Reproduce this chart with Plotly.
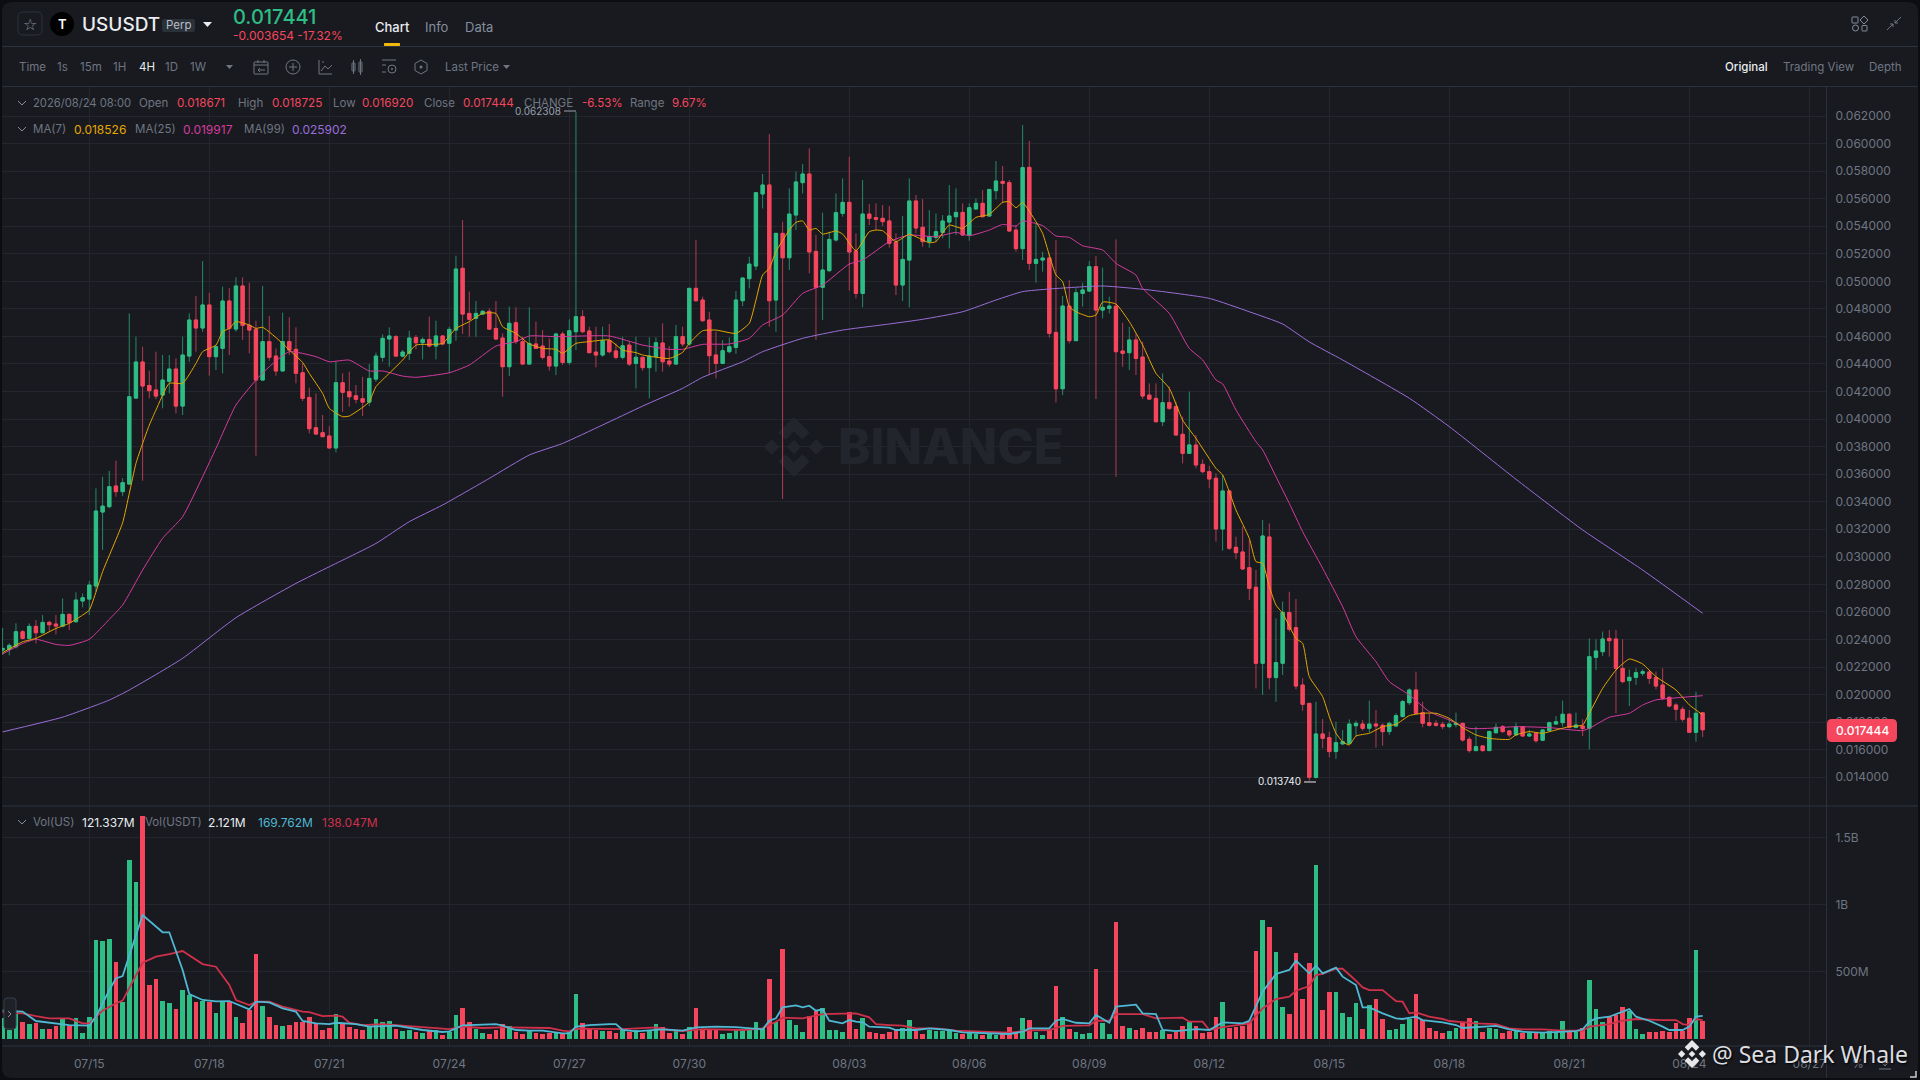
import pandas as pd
import plotly.graph_objects as go

BG_OUT = "#0c0d10"; BG = "#181a20"; GRID = "#23272d"; SEP = "#2d333c"
GREEN = "#2ebd85"; RED = "#f6465d"; GREEN_WICK = "#278a66"; RED_WICK = "#b33c50"
TXT = "#6f7681"; TXT2 = "#848e9c"; WHITE = "#eaecef"
ORANGE = "#e6a700"; MAGENTA = "#d63a9e"; PURPLE = "#9a6ed8"; CYAN = "#4fb8d2"; CRIMSON = "#cf304a"
FONT = "Inter"

first_bar = -13
opens = [
 .02323,.02328,.02347,.02456,.02408,.02495,.02449,.02524,.02512,.02497,.02582,.02529,.02679,
 .02693,.02788,.03325,.03364,.03514,.03473,.03528,.04152,.04414,.04244,
 .04211,.04174,.04274,.04363,.04094,.04457,.04719,.04661,.04828,.04453,
 .04513,.04857,.04653,.04966,.04680,.04651,.04283,.04562,.04457,.04349,
 .04562,.04506,.04336,.04157,.03937,.03901,.03877,.03790,.04264,.04199,
 .04169,.04148,.04123,.04290,.04448,.04581,.04598,.04457,.04477,.04591,
 .04554,.04578,.04530,.04603,.04550,.04646,.05094,.04767,.04731,.04762,
 .04782,.04658,.04588,.04380,.04699,.04562,.04399,.04545,.04530,.04453,
 .04385,.04617,.04411,.04634,.04743,.04639,.04486,.04465,.04569,.04494,
 .04448,.04537,.04404,.04448,.04373,.04453,.04552,.04421,.04399,.04598,
 .04545,.04949,.04864,.04719,.04465,.04404,.04489,.04520,.04859,.05019,
 .05111,.05634,.05699,.04864,.05348,.05171,.05481,.05716,.05779,.05217,
 .04956,.05077,.05300,.05493,.05573,.05220,.04912,.05488,.05462,.05457,
 .05438,.05283,.04973,.05154,.05583,.05392,.05288,.05319,.05355,.05430,
 .05469,.05500,.05336,.05525,.05566,.05474,.05658,.05725,.05716,.05372,
 .05237,.05827,.05130,.05154,.05169,.04629,.04220,.04820,.04569,.04912,
 .04929,.05106,.04791,.04803,.04820,.04494,.04482,.04574,.04450,.04174,
 .04150,.03981,.04119,.04090,.03889,.03751,.03811,.03671,.03618,.03570,
 .03202,.03478,.03069,.03035,.02921,.02779,.02227,.03144,.02123,.02227,
 .02595,.02486,.02069,.01936,.01399,.01714,.01687,.01586,.01642,.01646,
 .01774,.01786,.01755,.01786,.01777,.01731,.01772,.01840,.01941,.02033,
 .01869,.01796,.01791,.01784,.01767,.01782,.01791,.01675,.01593,.01627,
 .01593,.01723,.01767,.01736,.01707,.01767,.01699,.01719,.01668,.01738,
 .01786,.01796,.01857,.01762,.01772,.01755,.02270,.02311,.02408,.02403,
 .02190,.02101,.02125,.02154,.02164,.02123,.02069,.01980,.01924,.01893,
 .01828,.01726,.018671]
closes = [
 .02335,.02357,.02456,.02408,.02495,.02449,.02524,.02507,.02497,.02582,.02522,.02686,.02703,
 .02795,.03332,.03368,.03509,.03473,.03538,.04162,.04414,.04240,.04206,
 .04167,.04283,.04363,.04094,.04465,.04719,.04661,.04828,.04453,.04525,
 .04857,.04658,.04966,.04680,.04646,.04283,.04562,.04448,.04349,.04562,
 .04501,.04332,.04150,.03930,.03891,.03872,.03790,.04264,.04194,.04162,
 .04143,.04123,.04295,.04457,.04586,.04603,.04457,.04486,.04588,.04554,
 .04578,.04530,.04603,.04545,.04651,.05089,.04762,.04724,.04767,.04782,
 .04653,.04581,.04380,.04695,.04562,.04399,.04549,.04513,.04448,.04385,
 .04617,.04411,.04641,.04743,.04634,.04482,.04465,.04569,.04489,.04448,
 .04532,.04399,.04448,.04373,.04457,.04554,.04416,.04399,.04598,.04545,
 .04949,.04859,.04714,.04460,.04404,.04496,.04525,.04864,.05024,.05125,
 .05643,.05699,.04859,.05348,.05171,.05488,.05721,.05779,.05213,.04956,
 .05082,.05304,.05498,.05573,.05213,.04912,.05488,.05457,.05450,.05433,
 .05275,.04973,.05159,.05583,.05387,.05288,.05324,.05360,.05438,.05474,
 .05500,.05336,.05534,.05566,.05469,.05667,.05728,.05711,.05365,.05237,
 .05825,.05130,.05159,.05169,.04622,.04220,.04820,.04569,.04917,.04937,
 .05106,.04791,.04811,.04820,.04489,.04477,.04574,.04440,.04167,.04145,
 .03981,.04119,.04078,.03884,.03751,.03812,.03667,.03618,.03565,.03202,
 .03478,.03062,.03030,.02912,.02771,.02227,.03151,.02123,.02232,.02597,
 .02474,.02062,.01929,.01399,.01714,.01682,.01586,.01651,.01658,.01786,
 .01791,.01755,.01786,.01772,.01731,.01791,.01847,.01949,.02033,.01864,
 .01791,.01777,.01777,.01767,.01786,.01791,.01670,.01593,.01622,.01593,
 .01731,.01762,.01731,.01707,.01767,.01699,.01714,.01665,.01743,.01796,
 .01803,.01857,.01762,.01779,.01753,.02275,.02316,.02403,.02391,.02190,
 .02094,.02125,.02159,.02166,.02118,.02062,.01973,.01917,.01893,.01820,
 .01726,.01864,.017444]
highs = [
 .02485,.02372,.02517,.02468,.02517,.02541,.02577,.02536,.02577,.02698,.02589,.02742,.02734,
 .02824,.03497,.03581,.03623,.03698,.03570,.04767,.04598,.04525,.04351,
 .04489,.04465,.04465,.04441,.04598,.04767,.04893,.05147,.04917,.04537,
 .04961,.04950,.05029,.05029,.04990,.04714,.04966,.04748,.04513,.04772,
 .04738,.04666,.04404,.04227,.04186,.04029,.03949,.04416,.04332,.04344,
 .04247,.04307,.04399,.04482,.04615,.04666,.04610,.04501,.04641,.04610,
 .04593,.04743,.04714,.04610,.04670,.05186,.05445,.04925,.04857,.04791,
 .04803,.04857,.04622,.04816,.04811,.04598,.04811,.04707,.04646,.04586,
 .04627,.04634,.04724,.062308,.04791,.04670,.04670,.04670,.04690,.04549,
 .04598,.04561,.04598,.04448,.04593,.04593,.04695,.04530,.04683,.04670,
 .04950,.05300,.04888,.04779,.04634,.04574,.04593,.04929,.05024,.05179,
 .05643,.05779,.06069,.05348,.05433,.05675,.05796,.05851,.05965,.05336,
 .05498,.05360,.05638,.05747,.05905,.05348,.05735,.05561,.05566,.05554,
 .05546,.05348,.05474,.05747,.05626,.05597,.05517,.05493,.05481,.05699,
 .05675,.05566,.05566,.05602,.05663,.05667,.05873,.05837,.05735,.05408,
 .06134,.06018,.05420,.05215,.05203,.05300,.04893,.05009,.04949,.04990,
 .05147,.05183,.05099,.04888,.05304,.04699,.04670,.04622,.04561,.04259,
 .04259,.04332,.04235,.04126,.04017,.04199,.03884,.03707,.03659,.03606,
 .03594,.03485,.03146,.03219,.03122,.02904,.03267,.03243,.02553,.02675,
 .02747,.02694,.02118,.01936,.01948,.01823,.01731,.01803,.01743,.01820,
 .01811,.01815,.01956,.01888,.01791,.01803,.01864,.01961,.02045,.02166,
 .01948,.01864,.01815,.01803,.01828,.01869,.01796,.01694,.01767,.01634,
 .01738,.01791,.01779,.01743,.01796,.01772,.01743,.01723,.01748,.01803,
 .01844,.01956,.01864,.01869,.01820,.02408,.02401,.02457,.02469,.02469,
 .02401,.02183,.02191,.02183,.02178,.02166,.02191,.01985,.01936,.01912,
 .01888,.02021,.018725]
lows = [
 .02287,.02285,.02335,.02400,.02400,.02371,.02444,.02456,.02437,.02488,.02468,.02522,.02633,
 .02577,.02746,.03049,.03352,.03436,.03441,.03528,.04152,.03552,.04150,
 .04145,.04078,.04186,.04041,.04029,.04416,.04489,.04634,.04315,.04356,
 .04332,.04465,.04634,.04574,.04477,.03734,.04283,.04424,.04315,.04349,
 .04465,.04259,.04131,.03896,.03891,.03872,.03790,.03758,.04053,.04090,
 .04114,.04022,.04094,.04271,.04416,.04380,.04457,.04448,.04428,.04506,
 .04433,.04520,.04433,.04535,.04336,.04569,.04617,.04598,.04598,.04755,
 .04646,.04574,.04162,.04312,.04545,.04399,.04399,.04513,.04433,.04351,
 .04319,.04392,.04392,.04501,.04627,.04477,.04375,.04453,.04477,.04433,
 .04433,.04385,.04223,.04351,.04150,.04344,.04344,.04380,.04399,.04525,
 .04530,.04852,.04707,.04320,.04295,.04399,.04477,.04472,.04820,.04949,
 .05082,.05529,.04670,.04634,.03419,.05082,.05372,.05638,.05058,.04574,
 .04719,.05070,.05288,.05469,.04932,.04876,.04811,.05408,.05372,.05401,
 .05244,.04900,.04857,.04811,.05348,.05251,.05244,.05288,.05312,.05239,
 .05336,.05329,.05295,.05517,.05464,.05469,.05595,.05566,.05360,.05215,
 .05154,.05082,.04990,.05070,.04591,.04121,.04174,.04549,.04569,.04816,
 .04924,.04145,.04731,.04767,.03581,.04380,.04356,.04320,.04145,.04138,
 .03973,.03949,.04066,.03884,.03678,.03751,.03642,.03606,.03497,.03110,
 .03045,.03050,.02982,.02904,.02687,.02045,.01997,.02038,.01948,.02142,
 .02457,.02038,.01883,.013740,.01390,.01610,.01544,.01532,.01634,.01641,
 .01694,.01738,.01723,.01615,.01629,.01707,.01767,.01835,.01924,.01859,
 .01762,.01767,.01767,.01748,.01755,.01762,.01658,.01578,.01593,.01586,
 .01590,.01718,.01723,.01690,.01699,.01694,.01694,.01651,.01665,.01731,
 .01779,.01767,.01755,.01755,.01699,.01602,.02178,.02280,.02275,.01864,
 .02082,.01917,.02070,.02135,.02077,.02038,.01961,.01907,.01811,.01803,
 .01723,.01658,.016920]
volumes_m = [
 152,65,209,122,107,119,70,72,97,144,95,154,45,
 159,734,731,744,572,271,1334,1169,1665,401,
 445,279,266,219,361,326,274,279,276,194,
 276,276,159,119,214,634,244,162,100,95,
 102,124,127,162,114,65,80,182,109,90,
 75,65,90,147,124,132,75,60,65,50,
 45,65,65,27,52,177,226,122,75,40,
 35,65,107,95,47,35,55,40,32,40,
 45,32,60,333,117,70,65,60,60,45,
 65,52,65,40,57,109,85,45,57,35,
 87,226,70,70,70,35,40,70,70,82,
 122,82,445,127,669,139,102,50,167,209,
 229,65,65,50,199,72,157,50,45,35,
 50,65,80,139,60,35,65,55,55,65,
 40,35,40,35,30,35,30,35,85,45,
 154,139,52,27,65,393,159,72,52,35,
 45,520,119,35,873,97,77,65,77,52,
 52,65,35,52,97,122,95,40,52,159,
 271,82,90,95,127,657,888,836,647,236,
 187,642,294,565,1296,214,348,348,189,162,
 266,75,251,299,149,65,70,112,144,333,
 139,80,57,45,57,80,114,152,132,52,
 80,70,45,60,65,40,52,40,52,60,
 52,132,57,52,82,438,221,122,164,177,
 234,209,72,32,47,47,60,52,114,60,
 154,659,129]
assert len(opens) == len(closes) == len(highs) == len(lows) == len(volumes_m) == 256

ma7_bars = [-13,-10,-8,-5,-3,-1,0,2,5,6,7,8,9,10,12,14,16,17,19,20,21,22,24,25,26,29,30,32,33,35,36,38,39,41,42,43,45,47,49,51,53,55,57,59,61,62,64,66,68,70,71,73,75,78,80,82,
 83,87,89,90,92,94,97,99,100,101,102,103,105,106,107,108,109,110,112,113,115,117,118,119,121,123,126,127,129,131,133,135,137,138,139,140,142,143,144,145,146,147,148,150,151,152,154,156,158,160,162,164,
 166,169,170,172,174,175,176,177,178,179,181,182,183,185,186,187,188,189,190,192,194,196,198,200,202,204,206,208,210,213,214,216,218,220,222,224,225,227,229,231,233,235,238,240,242]
ma7_vals = [.02304,.02383,.02408,.02480,.02517,.02577,.02613,.02892,.03247,.03460,.03678,.03823,.03956,.04065,.04259,.04259,.04404,.04489,.04537,.04634,.04658,.04707,.04683,.04658,.04666,.04549,.04501,.04411,.04332,.04186,.04078,.04017,.04022,.04085,.04126,.04235,.04332,.04428,.04537,.04542,.04549,.04658,.04707,.04767,.04767,.04670,.04622,.04545,.04513,.04506,.04477,.04549,.04562,.04574,.04501,.04482,
 .04465,.04440,.04484,.04550,.04641,.04646,.04622,.04695,.04864,.05046,.05094,.05215,.05372,.05428,.05438,.05372,.05384,.05343,.05365,.05343,.05222,.05360,.05372,.05367,.05288,.05341,.05280,.05288,.05408,.05384,.05464,.05486,.05573,.05578,.05534,.05571,.05433,.05348,.05191,.05046,.04997,.04816,.04779,.04743,.04755,.04849,.04835,.04707,.04537,.04332,.04223,.03993,
 .03860,.03642,.03594,.03340,.03134,.02965,.02953,.02783,.02650,.02590,.02408,.02372,.02130,.01985,.01840,.01719,.01658,.01634,.01699,.01719,.01767,.01784,.01847,.01864,.01864,.01827,.01760,.01707,.01682,.01675,.01707,.01731,.01719,.01743,.01767,.01779,.01864,.02045,.02178,.02258,.02222,.02130,.02033,.01925,.018526]
ma25_bars = [-13,-10,-8,-5,-3,0,3,5,8,11,14,17,19,22,25,27,30,34,36,39,42,44,47,49,54,57,61,64,66,70,78,
 83,87,89,92,96,99,101,104,107,110,114,116,120,123,127,130,132,135,137,139,140,143,145,147,149,152,154,157,158,
 162,165,167,169,170,172,175,176,178,180,182,185,188,190,193,195,198,201,204,207,210,214,219,224,225,228,231,233,235,239,242]
ma25_vals = [.02294,.02371,.02401,.02364,.02357,.02401,.02546,.02650,.02904,.03134,.03291,.03581,.03787,.04102,.04283,.04380,.04489,.04453,.04416,.04428,.04349,.04349,.04312,.04303,.04336,.04392,.04530,.04562,.04603,.04598,.04603,
 .04537,.04506,.04506,.04542,.04545,.04586,.04683,.04755,.04912,.04973,.05125,.05154,.05288,.05336,.05324,.05355,.05331,.05372,.05413,.05401,.05438,.05404,.05329,.05319,.05258,.05227,.05130,.05045,.04949,
 .04767,.04513,.04429,.04284,.04255,.04066,.03836,.03776,.03582,.03388,.03183,.02917,.02638,.02420,.02239,.02094,.01997,.01876,.01815,.01755,.01755,.01767,.01760,.01738,.01755,.01835,.01864,.01924,.01961,.01980,.019917]
ma99_bars = [-13,-4,3,6,14,22,31,36,43,48,53,60,66,71,77,83,89,92,98,101,107,113,120,125,131,136,140,144,152,159,168,174,179,183,188,198,204,214,224,233,242]
ma99_vals = [.01729,.01836,.01960,.02033,.02263,.02558,.02807,.02928,.03097,.03255,.03376,.03569,.03739,.03823,.03957,.04094,.04223,.04303,.04416,.04489,.04586,.04646,.04690,.04724,.04779,.04864,.04925,.04944,.04966,.04937,.04876,.04779,.04690,.04560,.04429,.04151,.03945,.03563,.03195,.02904,.025902]

volma1_bars = [-13,-10,-8,-6,-3,0,1,3,4,5,8,11,12,14,15,17,19,21,24,25,27,29,31,32,34,36,37,40,42,46,50,53,54,56,61,62,64,66,68,71,72,73,75,78,79,80,82,86,89,91,
 94,97,101,102,103,104,106,107,108,109,110,111,113,114,115,116,117,120,121,124,126,129,131,138,140,141,144,145,146,148,150,151,153,154,157,158,160,161,163,166,168,170,173,174,176,178,180,181,183,184,185,187,188,190,191,192,194,196,
 197,199,200,203,205,206,211,213,215,218,223,224,225,226,228,230,231,232,234,236,237,239,240,241,242]
volma1_vals = [209,202,132,119,102,97,164,363,450,468,923,794,794,513,333,289,279,281,219,276,271,226,202,132,114,109,119,109,90,97,65,50,55,100,109,97,65,60,60,40,40,90,102,109,109,65,55,70,60,85,
 90,87,70,134,152,234,249,234,246,209,219,134,114,139,127,122,90,82,65,65,77,65,47,35,52,77,77,134,147,119,114,177,119,239,254,189,184,65,57,72,65,122,114,134,351,483,513,582,488,545,488,530,463,401,234,234,189,152,
 147,164,139,122,102,80,95,70,52,45,57,70,127,152,164,202,221,164,134,90,65,65,90,164,169.762]
volma2_bars = [-13,-10,-8,-6,-3,-1,0,2,4,5,8,10,12,14,17,19,21,22,24,25,27,29,32,33,35,37,38,39,41,44,47,50,54,56,59,62,64,69,71,72,73,75,80,85,87,89,91,
 92,98,101,103,104,107,110,113,115,117,118,120,122,124,127,130,136,138,141,144,146,150,151,153,154,158,160,164,165,167,168,170,174,176,178,180,181,183,184,185,187,188,190,191,192,194,195,196,
 197,198,199,201,203,204,206,208,211,213,215,218,221,224,225,228,230,232,236,238,239,240,241,242]
volma2_vals = [197,189,169,152,152,114,114,209,264,284,567,612,632,654,557,537,401,289,251,276,276,239,202,199,169,172,164,119,102,109,97,85,72,90,80,85,85,80,60,55,75,75,72,85,65,57,70,
 72,65,77,127,157,152,184,187,189,159,109,102,97,77,77,60,52,45,62,65,95,100,134,134,184,184,152,157,127,127,65,87,114,226,296,313,358,393,475,483,522,522,433,383,363,363,321,281,
 276,189,197,164,147,132,124,114,109,77,70,70,60,60,90,109,134,147,139,139,109,102,147,138.047]

price_ticks = [0.014 + 0.002 * n for n in range(25)]
vol_ticks = [500, 1000, 1500]
vol_tick_text = ["500M", "1B", "1.5B"]
date_ticks = ["2026-07-15","2026-07-18","2026-07-21","2026-07-24","2026-07-27","2026-07-30","2026-08-03",
              "2026-08-06","2026-08-09","2026-08-12","2026-08-15","2026-08-18","2026-08-21","2026-08-24","2026-08-27"]
date_tick_text = [d[5:7] + "/" + d[8:] for d in date_ticks]

t0 = pd.Timestamp("2026-07-15 00:00")
def when(bars):
    return [(t0 + pd.Timedelta(hours=4 * b)).strftime("%Y-%m-%d %H:%M") for b in bars]
bars_all = list(range(first_bar, first_bar + len(opens)))
times = when(bars_all)
vol_colors = [GREEN if c >= o else RED for o, c in zip(opens, closes)]
body_top = [max(o, c) for o, c in zip(opens, closes)]
body_bot = [min(o, c) for o, c in zip(opens, closes)]

px = lambda x: x / 1920
py = lambda y: 1 - y / 1080

fig = go.Figure()
# full range in the dimmer wick colour, then the bodies in the bright colour
fig.add_trace(go.Candlestick(x=times, open=opens, high=highs, low=lows, close=closes,
    increasing=dict(line=dict(color=GREEN_WICK, width=1), fillcolor=GREEN),
    decreasing=dict(line=dict(color=RED_WICK, width=1), fillcolor=RED),
    whiskerwidth=0, xaxis="x", yaxis="y", showlegend=False, hoverinfo="skip"))
fig.add_trace(go.Candlestick(x=times, open=opens, high=body_top, low=body_bot, close=closes,
    increasing=dict(line=dict(color=GREEN, width=1), fillcolor=GREEN),
    decreasing=dict(line=dict(color=RED, width=1), fillcolor=RED),
    whiskerwidth=0, xaxis="x", yaxis="y", showlegend=False, hoverinfo="skip"))
for bars, vals, col in [(ma99_bars, ma99_vals, PURPLE), (ma25_bars, ma25_vals, MAGENTA), (ma7_bars, ma7_vals, ORANGE)]:
    fig.add_trace(go.Scatter(x=when(bars), y=vals, mode="lines", line=dict(color=col, width=1, shape="spline", smoothing=0.5),
                             xaxis="x", yaxis="y", showlegend=False, hoverinfo="skip"))
fig.add_trace(go.Bar(x=times, y=volumes_m, marker=dict(color=vol_colors, line=dict(width=0)),
                     width=9800000, xaxis="x2", yaxis="y2", showlegend=False, hoverinfo="skip"))
for bars, vals, col in [(volma2_bars, volma2_vals, CRIMSON), (volma1_bars, volma1_vals, CYAN)]:
    fig.add_trace(go.Scatter(x=when(bars), y=vals, mode="lines", line=dict(color=col, width=1.8),
                             xaxis="x2", yaxis="y2", showlegend=False, hoverinfo="skip"))

shapes, notes = [], []

def label(x, y, text, color=TXT, size=11.5, anchor="left", weight=400, font=FONT, shadow=None):
    f = dict(family=font, size=size, color=color, weight=weight)
    if shadow:
        f["shadow"] = shadow
    notes.append(dict(x=px(x), y=py(y), xref="paper", yref="paper", text=text, showarrow=False,
                      xanchor=anchor, yanchor="middle", font=f, borderpad=0, borderwidth=0))

def pth(pts, color=None, fill=None, width=1, close=False, layer="above"):
    d = "M " + " L ".join(f"{px(a):.5f} {py(b):.5f}" for a, b in pts) + (" Z" if close else "")
    shapes.append(dict(type="path", xref="paper", yref="paper", path=d, layer=layer,
                       line=dict(color=color or "rgba(0,0,0,0)", width=width if color else 0),
                       fillcolor=fill or "rgba(0,0,0,0)"))

def rrect(x0, y0, x1, y1, r, color=None, fill=None, width=1, layer="above"):
    c = [(x0 + r, y0), (x1 - r, y0), (x1, y0), (x1, y0 + r), (x1, y1 - r), (x1, y1), (x1 - r, y1), (x0 + r, y1), (x0, y1), (x0, y1 - r), (x0, y0 + r), (x0, y0), (x0 + r, y0)]
    P = lambda p: f"{px(p[0]):.5f} {py(p[1]):.5f}"
    d = f"M {P(c[0])} L {P(c[1])} Q {P(c[2])} {P(c[3])} L {P(c[4])} Q {P(c[5])} {P(c[6])} L {P(c[7])} Q {P(c[8])} {P(c[9])} L {P(c[10])} Q {P(c[11])} {P(c[12])} Z"
    shapes.append(dict(type="path", xref="paper", yref="paper", path=d, layer=layer,
                       line=dict(color=color or "rgba(0,0,0,0)", width=width if color else 0),
                       fillcolor=fill or "rgba(0,0,0,0)"))

def circ(cx, cy, r, color=None, fill=None, width=1):
    shapes.append(dict(type="circle", xref="paper", yref="paper", x0=px(cx - r), x1=px(cx + r), y0=py(cy + r), y1=py(cy - r),
                       line=dict(color=color or "rgba(0,0,0,0)", width=width if color else 0),
                       fillcolor=fill or "rgba(0,0,0,0)", layer="above"))

def logo(cx, cy, s, fill, layer="above"):
    parts = [[(0, -.24), (.24, 0), (0, .24), (-.24, 0)],
             [(-1, 0), (-.74, -.26), (-.48, 0), (-.74, .26)],
             [(1, 0), (.74, -.26), (.48, 0), (.74, .26)],
             [(0, -1), (.52, -.48), (.28, -.24), (0, -.52), (-.28, -.24), (-.52, -.48)],
             [(0, 1), (.52, .48), (.28, .24), (0, .52), (-.28, .24), (-.52, .48)]]
    for p in parts:
        pth([(cx + a * s, cy + b * s) for a, b in p], fill=fill, close=True, layer=layer)

def chevron(x, y):
    pth([(x - 4, y - 2), (x, y + 2), (x + 4, y - 2)], color=TXT2, width=1)

# panel and separators
rrect(2, 2, 1918, 1078, 10, fill=BG, layer="below")
for y in (46.5, 86.5, 806, 1046):
    pth([(2, y), (1918 if y < 900 else 1826, y)], color=SEP, width=1)
pth([(1826.5, 87), (1826.5, 1078)], color=SEP, width=1)

# centre watermark
logo(794, 447, 30, "#22252c", layer="below")
label(838, 447, "BINANCE", "#22252c", 49, weight=800)

# header
rrect(18, 12, 42, 35, 5, color=SEP)
label(30, 24, "☆", TXT2, 16, "center", font="DejaVu Sans")
circ(62, 24, 12, fill="#000000")
label(62, 24, "T", "#ffffff", 13, "center", 600)
label(82, 24, "USUSDT", WHITE, 19, weight=500)
rrect(162, 19, 195, 32, 2, fill="#2b3139")
label(178.5, 25, "Perp", "#b7bdc6", 11.5, "center")
pth([(203, 22), (212, 22), (207.5, 27)], fill=WHITE, close=True)
label(233, 17, "0.017441", GREEN, 20, weight=500)
label(233, 36, "-0.003654 -17.32%", RED, 12)
label(375, 27, "Chart", WHITE, 13, weight=500)
label(425, 27, "Info", TXT2, 13)
label(465, 27, "Data", TXT2, 13)
rrect(384, 43, 400, 46, 0.5, fill="#f0b90b")

# toolbar
for x, t, c in [(19, "Time", TXT), (57, "1s", TXT), (80, "15m", TXT), (113, "1H", TXT), (139, "4H", WHITE), (165, "1D", TXT), (190, "1W", TXT)]:
    label(x, 67, t, c, 11.5)
pth([(226, 65), (233, 65), (229.5, 69)], fill=TXT, close=True)
IC = "#6f7681"
rrect(254, 62, 268, 74, 0.5, color=IC)
pth([(254, 65), (268, 65)], color=IC); pth([(258, 60), (258, 63)], color=IC); pth([(264, 60), (264, 63)], color=IC)
pth([(265, 70), (258, 70)], color=IC); pth([(260, 68), (258, 70), (260, 72)], color=IC)
circ(293, 67, 7, color=IC); pth([(293, 63), (293, 71)], color=IC); pth([(289, 67), (297, 67)], color=IC)
pth([(319, 60), (319, 74), (332, 74)], color=IC); pth([(321, 71), (325, 66), (328, 69), (332, 65)], color=IC); pth([(322, 62), (324, 62)], color=IC)
rrect(352, 63, 355, 71, 0.5, color=IC); rrect(359, 62, 362, 72, 0.5, color=IC)
pth([(353.5, 60), (353.5, 74)], color=IC); pth([(360.5, 59), (360.5, 75)], color=IC)
pth([(382, 60), (396, 60)], color=IC); pth([(382, 65), (386, 65)], color=IC); pth([(382, 72), (386, 72)], color=IC)
circ(392, 69, 4, color=IC); circ(392, 69, 1, fill=IC)
pth([(421, 60), (427, 63.5), (427, 70.5), (421, 74), (415, 70.5), (415, 63.5)], color=IC, close=True); circ(421, 67, 1.5, fill=IC)
label(445, 67, "Last Price", TXT, 11.5)
pth([(503, 65), (510, 65), (506.5, 69)], fill=TXT, close=True)
label(1725, 67, "Original", WHITE, 11.5, weight=500)
label(1783, 67, "Trading View", TXT, 11.5)
label(1869, 67, "Depth", TXT, 11.5)

# top right icons
rrect(1852, 17, 1858, 23, 0.5, color=TXT2)
pth([(1864, 16), (1868, 20), (1864, 24), (1860, 20)], color=TXT2, close=True)
circ(1855.5, 28, 3, color=TXT2)
rrect(1862, 25.5, 1867, 31, 0.5, color=TXT2)
pth([(1887, 30), (1893, 24)], color=TXT); pth([(1890, 24), (1893, 24), (1893, 27)], color=TXT)
pth([(1895, 23), (1901, 17)], color=TXT); pth([(1895, 20), (1895, 23), (1898, 23)], color=TXT)

# legend rows
chevron(22, 103)
for x, t, c, s in [(33, "2026/08/24 08:00", TXT, 11.2), (139, "Open", TXT, 11.5), (177, "0.018671", RED, 11.7), (238, "High", TXT, 11.5), (272, "0.018725", RED, 11.7),
                (333, "Low", TXT, 11.5), (362, "0.016920", RED, 11.7), (424, "Close", TXT, 11.5), (463, "0.017444", RED, 11.7), (524, "CHANGE", TXT, 11.5),
                (582, "-6.53%", RED, 11.5), (630, "Range", TXT, 11.5), (672, "9.67%", RED, 11.5)]:
    label(x, 103, t, c, s)
chevron(22, 129)
for x, t, c, s in [(33, "MA(7)", TXT, 11.5), (74, "0.018526", ORANGE, 12), (135, "MA(25)", TXT, 11.5), (183, "0.019917", MAGENTA, 12), (244, "MA(99)", TXT, 11.5), (292, "0.025902", PURPLE, 12)]:
    label(x, 129, t, c, s)
chevron(22, 822)
for x, t, c, s in [(33, "Vol(US)", TXT, 11.5), (82, "121.337M", WHITE, 12), (145, "Vol(USDT)", TXT, 11.5), (208, "2.121M", WHITE, 12), (258, "169.762M", CYAN, 12), (322, "138.047M", CRIMSON, 12)]:
    label(x, 822, t, c, s)

# extreme markers
label(561, 111, "0.062308", "#9aa1ac", 10, "right")
pth([(564, 111), (576, 111)], color="#9aa1ac")
label(1301, 781, "0.013740", WHITE, 10, "right")
pth([(1304, 782), (1316, 782)], color=WHITE)

# last price tag
rrect(1827, 719, 1897, 742, 5, fill=RED)
label(1862, 730.5, "0.017444", "#ffffff", 12, "center", 500)

# left handle
rrect(4, 998, 16, 1029, 3, color="#3a404a", fill="#1e2128")
pth([(8, 1011), (11, 1014), (8, 1017)], color=TXT2)

# bottom right
label(1858, 1063, "%", TXT, 12, "center")
pth([(1885, 1056), (1885, 1065)], color=TXT); pth([(1881, 1062), (1885, 1066), (1889, 1062)], color=TXT); pth([(1879, 1069), (1891, 1069)], color=TXT)
pth([(1916, 1071), (1916, 1077), (1910, 1077)], color="#c8ccd2", width=1.5)

# author watermark
logo(1692, 1054, 14, "#e6e7e9")
label(1712, 1054, "@ Sea Dark Whale", "#dcdde0", 23, font="Noto Sans", shadow="1px 1px 2px #000000")

x_range = ["2026-07-12 19:38", "2026-08-27 10:01"]
x_common = dict(type="date", range=x_range, domain=[px(2), px(1826)], tickmode="array", tickvals=date_ticks,
                gridcolor=GRID, gridwidth=1, showline=False, zeroline=False, rangeslider=dict(visible=False))
y_font = dict(family=FONT, size=12, color=TXT)

fig.update_layout(
    width=1920, height=1080, margin=dict(l=0, r=0, t=0, b=0), autosize=False,
    paper_bgcolor=BG_OUT, plot_bgcolor="rgba(0,0,0,0)", showlegend=False, bargap=0, hovermode=False,
    shapes=shapes, annotations=notes,
    xaxis=dict(anchor="y", showticklabels=False, ticktext=date_tick_text, **x_common),
    xaxis2=dict(anchor="y2", showticklabels=True, ticktext=date_tick_text, ticks="outside", ticklen=7, tickcolor="rgba(0,0,0,0)",
                tickfont=y_font, **x_common),
    yaxis=dict(anchor="x", domain=[py(806), py(87)], range=[0.01191, 0.064105], side="right", tickmode="array",
               tickvals=price_ticks, tickformat=".6f", ticks="outside", ticklen=6, tickcolor="rgba(0,0,0,0)",
               tickfont=y_font, gridcolor=GRID, gridwidth=1, zeroline=False, showline=False),
    yaxis2=dict(anchor="x2", domain=[py(1046), py(806)], range=[-54.5, 1736.6], side="right", tickmode="array",
                tickvals=vol_ticks, ticktext=vol_tick_text, ticks="outside", ticklen=6, tickcolor="rgba(0,0,0,0)",
                tickfont=y_font, gridcolor=GRID, gridwidth=1, zeroline=False, showline=False),
)

fig.write_html("out.html", config=dict(displayModeBar=False),
               post_script="document.body.style.margin='0';document.body.style.overflow='hidden';document.body.style.background='" + BG_OUT + "';")
